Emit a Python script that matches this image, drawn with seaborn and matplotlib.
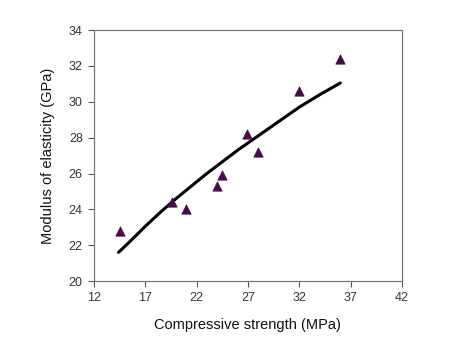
import numpy as np
import pandas as pd
import seaborn as sns
import matplotlib.pyplot as plt

strength = [14.5, 19.6, 21.0, 24.0, 24.5, 26.9, 28.0, 32.0, 36.0]
modulus = [22.8, 24.4, 24.0, 25.3, 25.9, 28.2, 27.2, 30.6, 32.4]

# Fitted curve, points
fit_strength = [14.4, 15.5, 17, 18.5, 20, 21.5, 23, 24.5, 26, 27.5, 29, 30.5, 32, 34, 36]
fit_modulus = [21.6, 22.2, 23.05, 23.85, 24.6, 25.3, 26.0, 26.65, 27.3, 27.9, 28.5, 29.1, 29.7, 30.4, 31.05]

x_ticks = [12, 17, 22, 27, 32, 37, 42]
y_ticks = [20, 22, 24, 26, 28, 30, 32, 34]

points = pd.DataFrame({'strength': strength, 'modulus': modulus})
fit = pd.DataFrame({'strength': fit_strength, 'modulus': fit_modulus})

sns.set_style('white')
plt.rcParams['font.family'] = ['Liberation Sans', 'DejaVu Sans']

fig = plt.figure(figsize=(4.74, 3.54), dpi=100)
ax = fig.add_axes([0.198, 0.206, 0.65, 0.709])

sns.lineplot(data=fit, x='strength', y='modulus', color='black', linewidth=2.2, ax=ax)
ax.lines[0].set_solid_joinstyle('round')
sns.scatterplot(data=points, x='strength', y='modulus', marker='^', s=45,
                color='#4b0a4b', edgecolor='#4b0a4b', ax=ax, zorder=3)

ax.set_xlim(12, 42)
ax.set_ylim(20, 34)
ax.set_xticks(x_ticks)
ax.set_yticks(y_ticks)
ax.tick_params(axis='both', direction='out', length=4, width=0.8, colors='#555555',
               labelsize=9, labelcolor='#333333', bottom=True, left=True, pad=4)
for s in ax.spines.values():
    s.set_color('#777777')
    s.set_linewidth(0.9)

ax.set_xlabel('Compressive strength (MPa)', fontsize=10.5, color='#111111', labelpad=10)
ax.set_ylabel('Modulus of elasticity (GPa)', fontsize=10.5, color='#111111', labelpad=10)

fig.savefig('out.png', dpi=100)
